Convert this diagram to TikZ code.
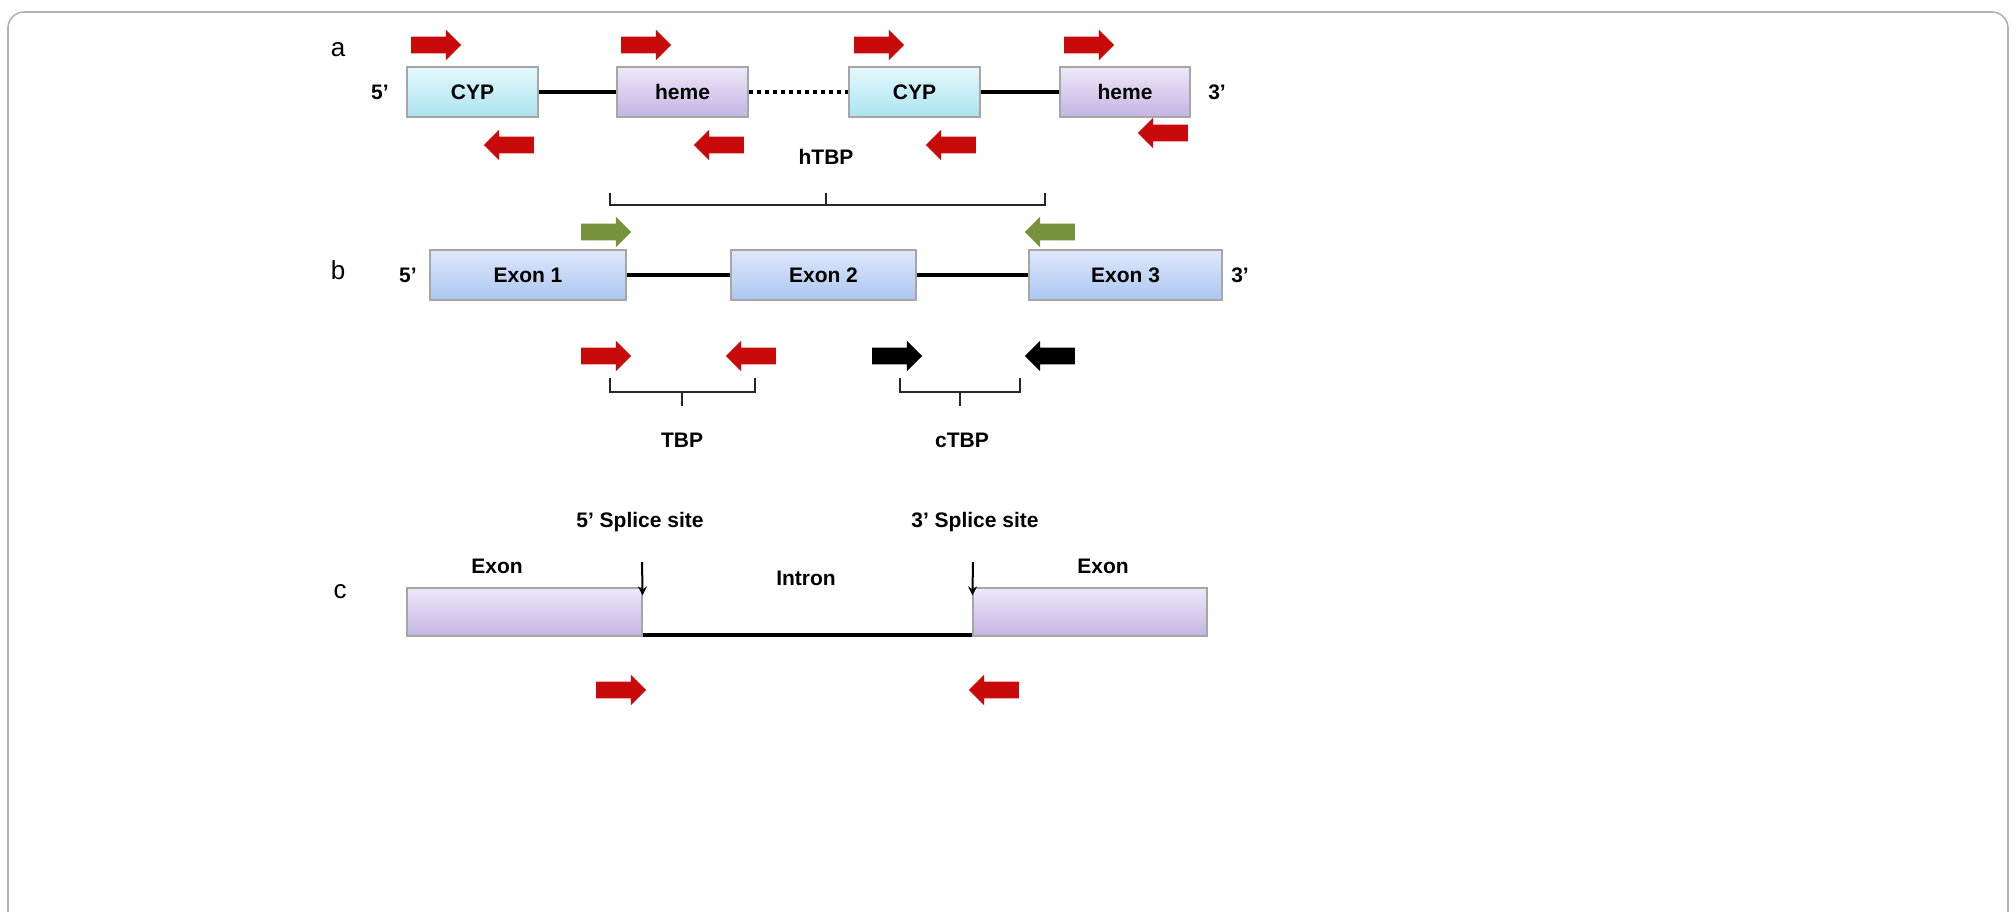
\documentclass[tikz,border=0pt]{standalone}
\usepackage{fontspec}
\setmainfont{Liberation Sans}
\usetikzlibrary{shapes.arrows}

\definecolor{cypTop}{RGB}{228,248,252}
\definecolor{cypBot}{RGB}{172,228,240}
\definecolor{hemeTop}{RGB}{238,232,248}
\definecolor{hemeBot}{RGB}{196,180,228}
\definecolor{exonTop}{RGB}{222,232,252}
\definecolor{exonBot}{RGB}{172,198,240}
\definecolor{primerRed}{RGB}{200,10,10}
\definecolor{primerGreen}{RGB}{118,146,60}

\tikzset{
  gene/.style = {draw=gray!70, line width=0.6pt, minimum height=25pt, inner sep=0pt, font=\bfseries\fontsize{10.5}{12}\selectfont},
  cyp/.style  = {gene, top color=cypTop, bottom color=cypBot},
  heme/.style = {gene, top color=hemeTop, bottom color=hemeBot},
  exon/.style = {gene, top color=exonTop, bottom color=exonBot},
  primer/.style = {single arrow, draw=none, minimum height=25pt, inner xsep=0pt, inner ysep=4pt,
                   single arrow head extend=3.5pt, single arrow head indent=0pt},
  fwd/.style = {primer},
  rev/.style = {primer, shape border rotate=180},
  lbl/.style = {font=\bfseries\fontsize{10.5}{12}\selectfont},
  panel/.style = {font=\fontsize{13}{15}\selectfont},
  link/.style = {line width=2pt},
  brk/.style = {line width=0.6pt, gray!30!black}
}

\begin{document}
\begin{tikzpicture}[x=0.5pt,y=-0.5pt]
\useasboundingbox (0,0) rectangle (2016,911);
\draw[gray!60, line width=0.8pt, rounded corners=8pt] (8,12) rectangle (2008,960);

% a
\node[panel] (pa) at (338,50) {a};
\node[cyp,  minimum width=65.5pt] (c1) at (472.5,92) {CYP};
\node[heme, minimum width=65.5pt] (h1) at (682.5,92) {heme};
\node[cyp,  minimum width=65.5pt] (c2) at (914.5,92) {CYP};
\node[heme, minimum width=65pt]   (h2) at (1125,92) {heme};
\node[lbl] (a5) at (380,92) {5'};
\node[lbl] (a3) at (1217,92) {3'};
\draw[link] (c1.east) -- (h1.west);
\draw[link, dotted] (h1.east) -- (c2.west);
\draw[link] (c2.east) -- (h2.west);
\node[fwd, fill=primerRed] (af1) at (432,45) {};
\node[fwd, fill=primerRed] (af2) at (642,45) {};
\node[fwd, fill=primerRed] (af3) at (875,45) {};
\node[fwd, fill=primerRed] (af4) at (1085,45) {};
\node[rev, fill=primerRed] (ar1) at (513,145) {};
\node[rev, fill=primerRed] (ar2) at (723,145) {};
\node[rev, fill=primerRed] (ar3) at (955,145) {};
\node[rev, fill=primerRed] (ar4) at (1167,133) {};

% b
\node[panel] (pb) at (338,270) {b};
\node[exon, minimum width=98pt]   (e1) at (528,275) {Exon 1};
\node[exon, minimum width=92.5pt] (e2) at (823.5,275) {Exon 2};
\node[exon, minimum width=96.5pt] (e3) at (1125.5,275) {Exon 3};
\node[lbl] (b5) at (408,275) {5'};
\node[lbl] (b3) at (1240,275) {3'};
\draw[link] (e1.east) -- (e2.west);
\draw[link] (e2.east) -- (e3.west);
\node[fwd, fill=primerGreen] (gf) at (602,232) {};
\node[rev, fill=primerGreen] (gr) at (1054,232) {};
\node[fwd, fill=primerRed] (bf1) at (602,356) {};
\node[rev, fill=primerRed] (br1) at (755,356) {};
\node[fwd, fill=black] (kf) at (893,356) {};
\node[rev, fill=black] (kr) at (1054,356) {};
\draw[brk] (610,193) -- (610,205) -- (1045,205) -- (1045,193);
\draw[brk] (826,205) -- (826,193);
\node[lbl] (htbp) at (826,157) {hTBP};
\draw[brk] (610,378) -- (610,392) -- (755,392) -- (755,378);
\draw[brk] (682,392) -- (682,406);
\node[lbl] (tbp) at (682,440) {TBP};
\draw[brk] (900,378) -- (900,392) -- (1020,392) -- (1020,378);
\draw[brk] (960,392) -- (960,406);
\node[lbl] (ctbp) at (962,440) {cTBP};

% c
\node[panel] (pc) at (340,592) {c};
\node[heme, minimum width=117.5pt, minimum height=24pt] (x1) at (524.5,612) {};
\node[heme, minimum width=117pt,   minimum height=24pt] (x2) at (1090,612) {};
\node[lbl] (xl1) at (497,566) {Exon};
\node[lbl] (xl2) at (1103,566) {Exon};
\node[lbl] (intr) at (806,578) {Intron};
\draw[link] (x1.east |- 0,635) -- (x2.west |- 0,635);
\node[lbl] (s5) at (640,522) {5' Splice site};
\node[lbl] (s3) at (975,522) {3' Splice site};
\coordinate (d5) at (642,562);
\coordinate (d3) at (973,562);
\draw[-stealth, line width=1pt] (d5) -- ([yshift=-4pt]x1.north east);
\draw[-stealth, line width=1pt] (d3) -- ([yshift=-4pt]x2.north west);
\node[fwd, fill=primerRed] (cf) at (617,690) {};
\node[rev, fill=primerRed] (cr) at (998,690) {};
\end{tikzpicture}
\end{document}
